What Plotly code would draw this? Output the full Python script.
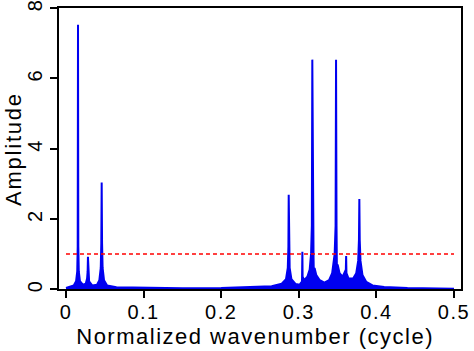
import plotly.graph_objects as go

# Spectrum envelope
wavenumber = [
    0.0000, 0.0060, 0.0100, 0.0130, 0.0145, 0.0151, 0.0155, 0.0159, 0.0165, 0.0180,
    0.0220, 0.0255, 0.0272, 0.0279, 0.0283, 0.0287, 0.0298, 0.0340, 0.0400, 0.0430,
    0.0448, 0.0455, 0.0460, 0.0465, 0.0472, 0.0490, 0.0530, 0.0650, 0.1000, 0.1500,
    0.2000, 0.2400, 0.2650, 0.2780, 0.2835, 0.2858, 0.2866, 0.2870, 0.2874, 0.2882,
    0.2905, 0.2960, 0.3010, 0.3035, 0.3040, 0.3044, 0.3046, 0.3049, 0.3070, 0.3110,
    0.3140, 0.3158, 0.3168, 0.3174, 0.3180, 0.3190, 0.3197, 0.3203, 0.3225, 0.3270,
    0.3330, 0.3390, 0.3430, 0.3462, 0.3474, 0.3480, 0.3486, 0.3493, 0.3500, 0.3525,
    0.3565, 0.3600, 0.3606, 0.3610, 0.3614, 0.3640, 0.3700, 0.3740, 0.3765, 0.3775,
    0.3780, 0.3785, 0.3795, 0.3820, 0.3870, 0.3950, 0.4100, 0.4400, 0.4700, 0.5000,
]
amplitude = [
    0.03, 0.06, 0.10, 0.22, 0.50, 1.20, 7.52, 1.20, 0.50, 0.22,
    0.12, 0.15, 0.30, 0.50, 0.92, 0.45, 0.22, 0.10, 0.12, 0.25,
    0.60, 1.30, 3.03, 1.30, 0.60, 0.25, 0.10, 0.05, 0.03, 0.02,
    0.03, 0.05, 0.08, 0.15, 0.28, 0.60, 1.20, 2.68, 1.20, 0.60,
    0.28, 0.14, 0.12, 0.20, 0.00, 0.30, 1.06, 0.35, 0.25, 0.35,
    0.55, 1.00, 1.80, 6.53, 1.80, 0.90, 0.00, 0.60, 0.40, 0.25,
    0.18, 0.25, 0.45, 1.00, 1.80, 6.53, 1.80, 0.00, 0.70, 0.45,
    0.35, 0.50, 0.55, 0.94, 0.45, 0.30, 0.30, 0.45, 0.80, 1.40,
    2.56, 1.40, 0.80, 0.40, 0.20, 0.10, 0.06, 0.03, 0.02, 0.01,
]
threshold_x = [0.0, 0.5]
threshold_y = [1.0, 1.0]

x_ticks = [0, 0.1, 0.2, 0.3, 0.4, 0.5]
x_ticklabels = ["0", "0.1", "0.2", "0.3", "0.4", "0.5"]
y_ticks = [0, 2, 4, 6, 8]
y_ticklabels = ["0", "2", "4", "6", "8"]
x_title = "Normalized wavenumber (cycle)"
y_title = "Amplitude"

FONT = "Liberation Sans, Arial, sans-serif"

# plot area in pixels
L, R, T, B = 59, 13, 8, 62
W, H = 474, 351
PW, PH = W - L - R, H - T - B

fig = go.Figure()
fig.add_trace(go.Scatter(x=wavenumber, y=amplitude, mode="lines",
                         fill="tozeroy", fillcolor="#0000f0",
                         line=dict(color="#0000f0", width=2), showlegend=False))
fig.add_trace(go.Scatter(x=threshold_x, y=threshold_y, mode="lines",
                         line=dict(color="#ff0000", width=1.5, dash="4px,3px"),
                         showlegend=False))

axis_common = dict(showline=True, linecolor="black", linewidth=2, mirror=True,
                   ticks="outside", ticklen=7, tickwidth=2, tickcolor="black",
                   showgrid=False, zeroline=False, automargin=False,
                   ticklabeloverflow="allow",
                   tickfont=dict(family=FONT, size=20, color="black"))

fig.update_layout(
    width=W, height=H,
    margin=dict(l=L, r=R, t=T, b=B),
    paper_bgcolor="white", plot_bgcolor="white",
    xaxis=dict(range=[-0.009, 0.509], tickvals=x_ticks, ticktext=x_ticklabels,
               ticklabelstandoff=-3, **axis_common),
    yaxis=dict(range=[0, 8], tickvals=y_ticks, ticktext=y_ticklabels,
               tickangle=-90, ticklabelstandoff=0, **axis_common),
    annotations=[
        dict(text=x_title, xref="paper", yref="paper",
             x=(255 - L) / PW, y=-(336 - (H - B)) / PH,
             xanchor="center", yanchor="middle", showarrow=False,
             font=dict(family=FONT, size=22, color="black")),
        dict(text=y_title, xref="paper", yref="paper", textangle=-90,
             x=(13 - L) / PW, y=(H - B - 149) / PH,
             xanchor="center", yanchor="middle", showarrow=False,
             font=dict(family=FONT, size=22, color="black")),
    ],
)

post = """
document.querySelectorAll('.xtick text, .ytick text').forEach(t=>t.style.letterSpacing='1.5px');
var an = document.querySelectorAll('.annotation-text');
if (an[0]) an[0].style.letterSpacing='1.5px';
if (an[1]) an[1].style.letterSpacing='1.75px';
"""
fig.write_html("out.html", post_script=post, config={"responsive": False})
